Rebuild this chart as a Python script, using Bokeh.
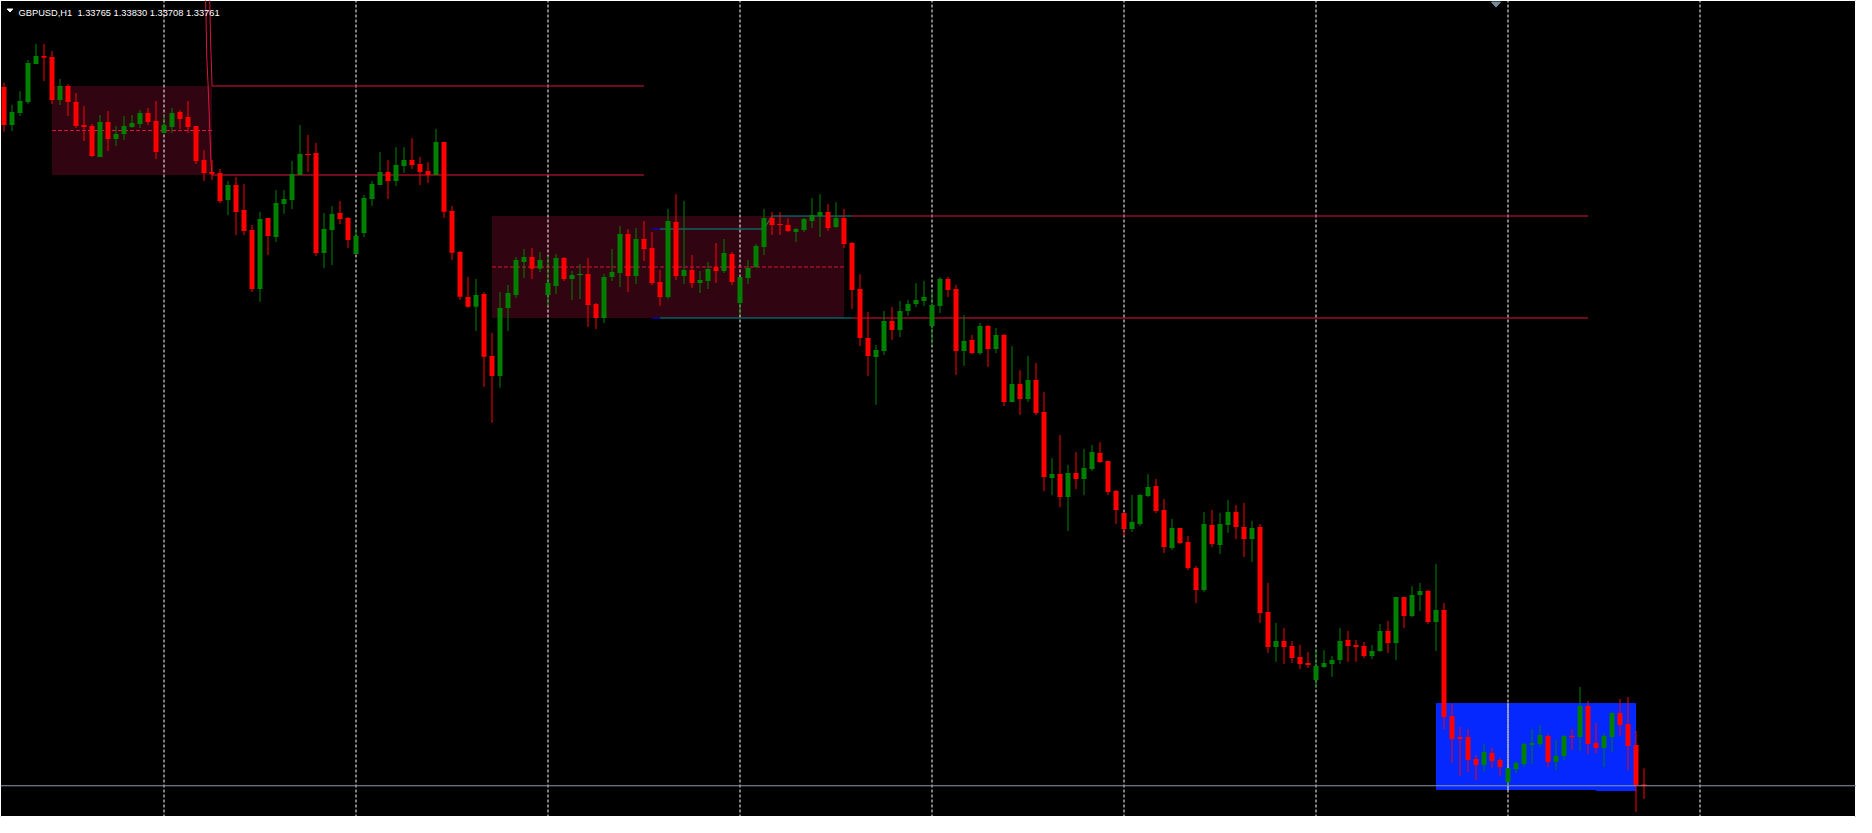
from bokeh.plotting import figure
from bokeh.models import ColumnDataSource, Range1d
from bokeh.core.properties import value
from bokeh.embed import file_html
from bokeh.resources import INLINE

# ---------------- data (GBPUSD, H1) ----------------
OPEN = [1.36556, 1.36404, 1.36452, 1.36496, 1.36648, 1.36680, 1.36676, 1.36504, 1.36560, 1.36496,
        1.36404, 1.36400, 1.36276, 1.36416, 1.36348, 1.36368, 1.36396, 1.36408, 1.36452, 1.36420,
        1.36372, 1.36396, 1.36456, 1.36436, 1.36400, 1.36264, 1.36216, 1.36212, 1.36104, 1.36164,
        1.36064, 1.35984, 1.35748, 1.36032, 1.35956, 1.36088, 1.36104, 1.36204, 1.36288, 1.36292,
        1.35892, 1.35984, 1.36052, 1.36032, 1.35888, 1.35972, 1.36108, 1.36164, 1.36216, 1.36180,
        1.36240, 1.36264, 1.36248, 1.36220, 1.36204, 1.36336, 1.36060, 1.35896, 1.35716, 1.35677,
        1.35728, 1.35480, 1.35400, 1.35672, 1.35724, 1.35856, 1.35876, 1.35829, 1.35724, 1.35760,
        1.35872, 1.35788, 1.35804, 1.35808, 1.35688, 1.35632, 1.35796, 1.35812, 1.35968, 1.35800,
        1.35948, 1.35912, 1.35776, 1.35716, 1.36016, 1.35800, 1.35824, 1.35772, 1.35780, 1.35836,
        1.35820, 1.35888, 1.35692, 1.35792, 1.35836, 1.35916, 1.36032, 1.36008, 1.36004, 1.35976,
        1.35984, 1.36020, 1.36040, 1.36056, 1.35996, 1.36032, 1.35932, 1.35748, 1.35552, 1.35476,
        1.35500, 1.35620, 1.35584, 1.35660, 1.35688, 1.35700, 1.35600, 1.35680, 1.35788, 1.35748,
        1.35500, 1.35544, 1.35492, 1.35600, 1.35508, 1.35564, 1.35296, 1.35368, 1.35308, 1.35384,
        1.35256, 1.34992, 1.35008, 1.34916, 1.35012, 1.34988, 1.35028, 1.35092, 1.35060, 1.34940,
        1.34852, 1.34788, 1.34808, 1.34920, 1.34960, 1.34864, 1.34712, 1.34792, 1.34736, 1.34632,
        1.34544, 1.34804, 1.34724, 1.34804, 1.34856, 1.34796, 1.34748, 1.34796, 1.34456, 1.34316,
        1.34340, 1.34320, 1.34276, 1.34252, 1.34184, 1.34236, 1.34248, 1.34264, 1.34344, 1.34324,
        1.34320, 1.34280, 1.34300, 1.34380, 1.34332, 1.34516, 1.34440, 1.34524, 1.34540, 1.34416,
        1.34464, 1.34040, 1.33956, 1.33956, 1.33868, 1.33844, 1.33892, 1.33864, 1.33776, 1.33828,
        1.33848, 1.33924, 1.33928, 1.33960, 1.33856, 1.33880, 1.33960, 1.33956, 1.34080, 1.33932,
        1.33912, 1.33956, 1.34052, 1.34008, 1.33924, 1.33765]

HIGH = [1.36573, 1.36484, 1.36540, 1.36664, 1.36728, 1.36728, 1.36700, 1.36588, 1.36568, 1.36532,
        1.36480, 1.36408, 1.36444, 1.36460, 1.36400, 1.36440, 1.36444, 1.36464, 1.36472, 1.36500,
        1.36444, 1.36472, 1.36464, 1.36500, 1.36400, 1.36304, 1.36264, 1.36228, 1.36180, 1.36196,
        1.36168, 1.36004, 1.36056, 1.36032, 1.36144, 1.36144, 1.36260, 1.36404, 1.36364, 1.36332,
        1.36052, 1.36080, 1.36100, 1.36036, 1.35992, 1.36124, 1.36180, 1.36296, 1.36264, 1.36316,
        1.36316, 1.36352, 1.36276, 1.36256, 1.36388, 1.36336, 1.36080, 1.35900, 1.35796, 1.35788,
        1.35736, 1.35572, 1.35736, 1.35764, 1.35876, 1.35908, 1.35912, 1.35896, 1.35880, 1.35888,
        1.35876, 1.35820, 1.35848, 1.35872, 1.35692, 1.35808, 1.35908, 1.36000, 1.35988, 1.35992,
        1.36020, 1.35976, 1.35824, 1.36068, 1.36128, 1.36100, 1.35884, 1.35820, 1.35856, 1.35932,
        1.35948, 1.35896, 1.35796, 1.35864, 1.35928, 1.36068, 1.36056, 1.36056, 1.36032, 1.35992,
        1.36032, 1.36112, 1.36128, 1.36088, 1.36096, 1.36068, 1.35936, 1.35808, 1.35656, 1.35524,
        1.35660, 1.35676, 1.35700, 1.35704, 1.35772, 1.35780, 1.35740, 1.35796, 1.35796, 1.35764,
        1.35644, 1.35564, 1.35612, 1.35604, 1.35592, 1.35568, 1.35520, 1.35424, 1.35480, 1.35452,
        1.35336, 1.35072, 1.35164, 1.35044, 1.35096, 1.35108, 1.35124, 1.35136, 1.35060, 1.34944,
        1.34852, 1.34924, 1.34928, 1.35008, 1.34988, 1.34908, 1.34828, 1.34792, 1.34760, 1.34640,
        1.34856, 1.34864, 1.34852, 1.34904, 1.34884, 1.34892, 1.34820, 1.34808, 1.34572, 1.34412,
        1.34392, 1.34340, 1.34324, 1.34296, 1.34308, 1.34304, 1.34280, 1.34392, 1.34380, 1.34344,
        1.34336, 1.34324, 1.34408, 1.34420, 1.34516, 1.34516, 1.34560, 1.34572, 1.34544, 1.34648,
        1.34492, 1.34088, 1.33996, 1.33988, 1.33884, 1.33928, 1.33912, 1.33872, 1.33832, 1.33860,
        1.33932, 1.33988, 1.34004, 1.33968, 1.33944, 1.33964, 1.33988, 1.34156, 1.34100, 1.34012,
        1.33972, 1.34056, 1.34108, 1.34116, 1.33980, 1.33830]

LOW = [1.36377, 1.36380, 1.36440, 1.36488, 1.36648, 1.36580, 1.36488, 1.36484, 1.36440, 1.36392,
       1.36340, 1.36276, 1.36276, 1.36300, 1.36320, 1.36344, 1.36392, 1.36392, 1.36404, 1.36268,
       1.36372, 1.36372, 1.36388, 1.36372, 1.36248, 1.36180, 1.36184, 1.36092, 1.36044, 1.35964,
       1.35964, 1.35736, 1.35696, 1.35884, 1.35936, 1.36048, 1.36068, 1.36204, 1.36216, 1.35880,
       1.35832, 1.35844, 1.36008, 1.35912, 1.35888, 1.35956, 1.36080, 1.36164, 1.36108, 1.36160,
       1.36212, 1.36228, 1.36164, 1.36172, 1.36204, 1.36033, 1.35864, 1.35705, 1.35673, 1.35580,
       1.35357, 1.35213, 1.35353, 1.35580, 1.35712, 1.35792, 1.35788, 1.35816, 1.35680, 1.35728,
       1.35780, 1.35704, 1.35708, 1.35596, 1.35588, 1.35612, 1.35780, 1.35756, 1.35736, 1.35768,
       1.35860, 1.35764, 1.35680, 1.35708, 1.35784, 1.35768, 1.35752, 1.35732, 1.35748, 1.35772,
       1.35812, 1.35764, 1.35644, 1.35768, 1.35832, 1.35884, 1.35964, 1.35964, 1.35976, 1.35936,
       1.35976, 1.35992, 1.35956, 1.35980, 1.35992, 1.35912, 1.35668, 1.35520, 1.35400, 1.35284,
       1.35484, 1.35544, 1.35556, 1.35640, 1.35676, 1.35680, 1.35528, 1.35652, 1.35716, 1.35404,
       1.35440, 1.35488, 1.35484, 1.35436, 1.35492, 1.35280, 1.35296, 1.35244, 1.35296, 1.35244,
       1.34940, 1.34924, 1.34876, 1.34780, 1.34948, 1.34924, 1.35020, 1.35052, 1.34924, 1.34808,
       1.34760, 1.34776, 1.34800, 1.34916, 1.34852, 1.34692, 1.34704, 1.34728, 1.34624, 1.34492,
       1.34536, 1.34716, 1.34688, 1.34772, 1.34748, 1.34676, 1.34656, 1.34412, 1.34292, 1.34256,
       1.34248, 1.34252, 1.34228, 1.34232, 1.34156, 1.34232, 1.34196, 1.34248, 1.34256, 1.34256,
       1.34272, 1.34268, 1.34296, 1.34292, 1.34264, 1.34392, 1.34436, 1.34460, 1.34408, 1.34300,
       1.33988, 1.33852, 1.33800, 1.33816, 1.33784, 1.33816, 1.33832, 1.33800, 1.33760, 1.33812,
       1.33836, 1.33848, 1.33916, 1.33836, 1.33824, 1.33864, 1.33904, 1.33900, 1.33888, 1.33892,
       1.33836, 1.33896, 1.33960, 1.33824, 1.33656, 1.33708]

CLOSE = [1.36404, 1.36456, 1.36500, 1.36652, 1.36680, 1.36673, 1.36504, 1.36560, 1.36496, 1.36400,
         1.36396, 1.36280, 1.36416, 1.36348, 1.36368, 1.36400, 1.36412, 1.36452, 1.36416, 1.36296,
         1.36404, 1.36452, 1.36428, 1.36396, 1.36260, 1.36212, 1.36208, 1.36100, 1.36164, 1.36056,
         1.35980, 1.35748, 1.36028, 1.35960, 1.36092, 1.36108, 1.36208, 1.36288, 1.36284, 1.35892,
         1.35988, 1.36048, 1.36028, 1.35944, 1.35960, 1.36112, 1.36168, 1.36216, 1.36180, 1.36244,
         1.36264, 1.36244, 1.36216, 1.36204, 1.36336, 1.36057, 1.35893, 1.35717, 1.35677, 1.35724,
         1.35477, 1.35400, 1.35672, 1.35732, 1.35864, 1.35876, 1.35829, 1.35864, 1.35772, 1.35872,
         1.35788, 1.35804, 1.35808, 1.35684, 1.35632, 1.35796, 1.35816, 1.35968, 1.35800, 1.35948,
         1.35908, 1.35772, 1.35716, 1.36020, 1.35800, 1.35824, 1.35772, 1.35784, 1.35828, 1.35820,
         1.35892, 1.35776, 1.35796, 1.35832, 1.35920, 1.36032, 1.36004, 1.36004, 1.35980, 1.35988,
         1.36028, 1.36044, 1.36056, 1.35992, 1.36032, 1.35928, 1.35744, 1.35552, 1.35480, 1.35504,
         1.35620, 1.35584, 1.35660, 1.35688, 1.35704, 1.35716, 1.35684, 1.35788, 1.35744, 1.35500,
         1.35540, 1.35492, 1.35600, 1.35508, 1.35564, 1.35296, 1.35368, 1.35308, 1.35384, 1.35252,
         1.34996, 1.35008, 1.34916, 1.35012, 1.34988, 1.35032, 1.35096, 1.35056, 1.34936, 1.34864,
         1.34788, 1.34816, 1.34924, 1.34956, 1.34860, 1.34716, 1.34792, 1.34732, 1.34632, 1.34544,
         1.34808, 1.34728, 1.34808, 1.34856, 1.34796, 1.34748, 1.34792, 1.34452, 1.34316, 1.34340,
         1.34316, 1.34272, 1.34248, 1.34244, 1.34240, 1.34252, 1.34264, 1.34340, 1.34320, 1.34316,
         1.34280, 1.34300, 1.34380, 1.34332, 1.34516, 1.34440, 1.34524, 1.34540, 1.34416, 1.34464,
         1.34036, 1.33948, 1.33948, 1.33864, 1.33844, 1.33896, 1.33860, 1.33836, 1.33832, 1.33852,
         1.33928, 1.33932, 1.33964, 1.33856, 1.33880, 1.33960, 1.33956, 1.34080, 1.33928, 1.33912,
         1.33960, 1.34052, 1.34004, 1.33920, 1.33764, 1.33761]

SYMBOL_TITLE = "GBPUSD,H1\u00a0 1.33765 1.33830 1.33708 1.33761"
BID_PRICE = 1.33761
SEPARATOR_BARS = [20, 44, 68, 92, 116, 140, 164, 188, 212]

# dark-red range boxes (bar index / price)
ZONE_LEFT = [6, 61]
ZONE_RIGHT = [26, 105]
ZONE_TOP = [1.36560, 1.36040]
ZONE_BOTTOM = [1.36204, 1.35632]
ZONE_MID = [1.36382, 1.35836]

# blue box
BLUE_LEFT = [179, 199]
BLUE_RIGHT = [204, 204]
BLUE_TOP = [1.34092, 1.34092]
BLUE_BOTTOM = [1.33744, 1.33740]

# crimson horizontal levels
LEVEL_START = [26, 26, 106, 106]
LEVEL_END = [80, 80, 198, 198]
LEVEL_PRICE = [1.36560, 1.36204, 1.36040, 1.35632]

# steep lines coming from above into first box levels
STEEP_A_X = [25.71, 25.84, 25.96, 26.0]
STEEP_A_Y = [1.36908, 1.36720, 1.36612, 1.36560]
STEEP_B_X = [25.21, 25.34, 25.50, 25.63, 25.75, 25.87, 26.0]
STEEP_B_Y = [1.36908, 1.36680, 1.36572, 1.36468, 1.36360, 1.36260, 1.36204]

# teal lines (with a short blue start)
TEAL_UP_X = [82, 95, 96, 106]
TEAL_UP_Y = [1.35988, 1.35988, 1.36040, 1.36040]
TEAL_LO_X = [82, 106]
TEAL_LO_Y = [1.35632, 1.35632]
BLUE_START_X0 = [81, 81]
BLUE_START_X1 = [82, 82]
BLUE_START_Y = [1.35988, 1.35632]

# ---------------- layout (1 screen px = 1 reference px) ----------------
W, H = 1856, 817
PX_PER_BAR = 8.0           # pixels per bar
PRICE_PER_PX = 0.00004     # price per pixel
X0 = -3.5 / PX_PER_BAR
X1 = X0 + W / PX_PER_BAR
Y_TOP = 1.36902
Y_BOT = Y_TOP - H * PRICE_PER_PX


def dx(px):
    return X0 + px / PX_PER_BAR


def dy(py):
    return Y_TOP - py * PRICE_PER_PX


p = figure(width=W, height=H, x_range=Range1d(X0, X1), y_range=Range1d(Y_BOT, Y_TOP),
           toolbar_location=None, output_backend="svg", min_border=0,
           x_axis_location=None, y_axis_location=None,
           background_fill_color="black", border_fill_color="black",
           outline_line_color="white", outline_line_width=1)
p.grid.visible = False

# boxes
p.quad(left=ZONE_LEFT, right=ZONE_RIGHT, top=ZONE_TOP, bottom=ZONE_BOTTOM,
       fill_color="#300511", line_color=None)
p.quad(left=BLUE_LEFT, right=BLUE_RIGHT, top=BLUE_TOP, bottom=BLUE_BOTTOM,
       fill_color="#0528FF", line_color=None)

# day separators
p.segment(x0=SEPARATOR_BARS, x1=SEPARATOR_BARS,
          y0=[Y_BOT] * len(SEPARATOR_BARS), y1=[Y_TOP] * len(SEPARATOR_BARS),
          line_color="white", line_width=1, line_dash="3 2")
# separator part over the blue box shows yellow
sep_in_blue = [s for s in SEPARATOR_BARS if BLUE_LEFT[0] <= s <= BLUE_RIGHT[0]]
p.segment(x0=sep_in_blue, x1=sep_in_blue, y0=[BLUE_BOTTOM[0]] * len(sep_in_blue),
          y1=[BLUE_TOP[0]] * len(sep_in_blue), line_color="#FFE680", line_width=1, line_dash="3 2")

# box mid lines
p.segment(x0=ZONE_LEFT, x1=ZONE_RIGHT, y0=ZONE_MID, y1=ZONE_MID,
          line_color="#DC143C", line_width=1, line_dash="4 2")

# crimson levels
p.segment(x0=LEVEL_START, x1=LEVEL_END, y0=LEVEL_PRICE, y1=LEVEL_PRICE,
          line_color="#DC143C", line_width=1)
p.line(STEEP_A_X, STEEP_A_Y, line_color="#DC143C", line_width=1)
p.line(STEEP_B_X, STEEP_B_Y, line_color="#DC143C", line_width=1)

# teal lines
p.line(TEAL_UP_X, TEAL_UP_Y, line_color="#008B8B", line_width=1)
p.line(TEAL_LO_X, TEAL_LO_Y, line_color="#008B8B", line_width=1)
p.segment(x0=BLUE_START_X0, x1=BLUE_START_X1, y0=BLUE_START_Y, y1=BLUE_START_Y,
          line_color="#0000FF", line_width=1)

# candles
n = len(OPEN)
idx = list(range(n))
colors = ["#008000" if c > o else "#FF0000" for o, c in zip(OPEN, CLOSE)]
src = ColumnDataSource(dict(
    x=idx, o=OPEN, h=HIGH, l=LOW, c=CLOSE,
    top=[max(o, c) for o, c in zip(OPEN, CLOSE)],
    bottom=[min(o, c) for o, c in zip(OPEN, CLOSE)],
    color=colors))
p.segment(x0="x", x1="x", y0="l", y1="h", line_color="color", line_width=1, source=src)
p.vbar(x="x", width=0.625, top="top", bottom="bottom", fill_color="color",
       line_color=None, source=src)
doji = [i for i in idx if abs(OPEN[i] - CLOSE[i]) < 0.00005]
p.segment(x0=[i - 0.3125 for i in doji], x1=[i + 0.3125 for i in doji],
          y0=[(OPEN[i] + CLOSE[i]) / 2 for i in doji], y1=[(OPEN[i] + CLOSE[i]) / 2 for i in doji],
          line_color=[colors[i] for i in doji], line_width=1.2)

# bid line
p.segment(x0=[X0], x1=[X1], y0=[BID_PRICE], y1=[BID_PRICE], line_color="#8A96A8", line_width=1)

# title
p.patch([dx(6.7), dx(12.3), dx(9.5)], [dy(8.5), dy(8.5), dy(11.5)], fill_color="white", line_color="white")
p.text(x=[dx(18)], y=[dy(12.7)], text=[SYMBOL_TITLE], text_color="white",
       text_font=value("Liberation Sans"), text_font_size="9.3px",
       text_align="left", text_baseline="alphabetic")

# shift marker at the top
p.patch([dx(1491), dx(1500), dx(1495.5)], [dy(1.5), dy(1.5), dy(6.7)],
        fill_color="#778899", line_color="#778899")

open("out.html", "w").write(file_html(p, INLINE))
